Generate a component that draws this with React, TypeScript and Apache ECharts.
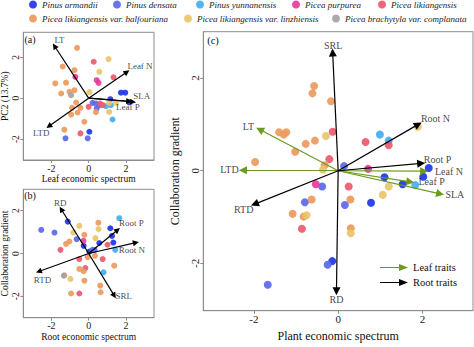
import React, { useEffect, useRef } from 'react';
import * as echarts from 'echarts';

const species = [
  'Pinus armandii',
  'Pinus densata',
  'Pinus yunnanensis',
  'Picea purpurea',
  'Picea likiangensis',
  'Picea likiangensis var. balfouriana',
  'Picea likiangensis var. linzhiensis',
  'Picea brachytyla var. complanata',
];
const speciesColors = ['#1e36e6', '#5b69e8', '#43aef0', '#ea3a9c', '#ec5a6c', '#ec9a5e', '#e9c46a', '#a3a3a3'];

// [x, y, speciesIndex]
const pointsA: number[][] = [
  [1.73, 0.27, 0], [1.96, 0.27, 0], [1.16, -0.05, 0], [2.17, -0.2, 0], [0.04, -1.64, 0],
  [0.21, -0.23, 1], [0.39, -0.26, 1], [0.43, -0.5, 1], [0.57, -0.34, 1], [-1.24, -1.96, 1], [-0.05, -1.96, 1],
  [0.93, -0.39, 2], [1.19, -0.34, 2], [1.28, -1.04, 2],
  [-0.71, 1.04, 3], [0.43, 0.88, 3], [0.53, 0.75, 3],
  [0.27, 1.78, 4], [1.33, 1.02, 4], [0.61, -0.26, 4], [0.0, -0.42, 4], [0.75, -0.34, 4], [-0.44, -1.72, 4],
  [-0.62, 2.46, 5], [-1.39, 1.55, 5], [-0.76, 1.37, 5], [-1.79, 0.72, 5], [-1.21, 0.76, 5], [-0.76, 0.39, 5],
  [-1.47, 0.23, 5], [-1.03, 0.31, 5], [-0.67, -0.21, 5], [-0.89, -0.47, 5], [-0.44, -0.47, 5], [-0.59, -0.7, 5],
  [-0.94, -0.8, 5], [0.39, -0.68, 5], [-0.23, -1.15, 5], [-1.3, -1.54, 5],
  [1.07, 1.91, 6], [0.57, 1.29, 6], [0.04, 0.3, 6], [1.1, -0.23, 6], [1.46, -0.23, 6], [1.1, -0.67, 6],
  [-0.94, 0.15, 7],
];

const pointsB: number[][] = [
  [-1.12, 1.49, 0], [1.16, 1.18, 0], [1.25, 0.82, 0], [-0.27, 0.36, 0], [0.57, 0.49, 0], [1.32, 0.51, 0], [0.04, 0.09, 0],
  [-2.54, 1.1, 1], [-1.83, 0.98, 1], [-0.64, 0.67, 1], [0.21, 0.17, 1], [0.32, 0.16, 1],
  [1.64, 1.65, 2], [1.42, 0.17, 2], [0.8, -0.88, 2],
  [-0.28, 0.59, 3],
  [-1.51, 0.17, 4], [1.01, 0.41, 4], [-0.5, -0.26, 4], [0.75, -0.26, 4], [-0.18, -0.68, 4], [-0.5, -1.87, 4],
  [0.52, 1.44, 5], [-0.23, 0.87, 5], [-1.03, 0.56, 5], [-1.21, 0.45, 5], [-0.05, -0.17, 5], [0.34, -0.11, 5],
  [-0.5, -0.72, 5], [-0.27, -0.83, 5], [1.37, -0.57, 5], [-1.3, -1.02, 5], [-0.23, -1.27, 5], [0.62, -1.5, 5],
  [0.64, -1.81, 5], [-0.94, -1.87, 5],
  [-0.5, 1.29, 6], [0.53, 1.14, 6], [-0.82, 0.98, 6], [0.36, 0.72, 6], [-0.98, -1.19, 6],
  [-1.33, -1.04, 7],
];

const pointsC: number[][] = [
  [2.15, 0.06, 0], [2.02, -0.13, 0], [1.1, -0.14, 0], [1.53, -0.29, 0], [0.78, -0.69, 0], [-0.14, -1.95, 0],
  [0.14, 0.1, 1], [-0.38, -0.34, 1], [-0.79, -0.68, 1], [0.16, -0.74, 1], [-0.25, -2.03, 1], [-1.67, -2.46, 1],
  [0.99, 0.78, 2], [1.2, 0.65, 2], [1.83, -0.31, 2],
  [0.71, 0.04, 3], [-0.53, -0.29, 3],
  [-0.13, 0.84, 4], [-0.21, 0.25, 4], [0.65, 0.62, 4], [1.2, 0.55, 4], [0.25, -0.34, 4], [-0.86, -1.25, 4],
  [-0.57, 1.83, 5], [-0.61, 1.67, 5], [-0.17, 1.5, 5], [-1.4, 0.83, 5], [-1.29, 0.78, 5], [-1.23, 0.83, 5],
  [-0.55, 0.65, 5], [-0.77, 0.58, 5], [-1.02, 0.41, 5], [-1.97, 0.19, 5], [-0.32, 0.12, 5], [-0.63, -0.62, 5],
  [0.29, -0.62, 5], [-1.08, -0.93, 5], [-0.82, -0.99, 5], [0.3, -1.24, 5],
  [-0.29, 0.75, 6], [-0.36, 0.02, 6], [1.89, 0.95, 6], [1.2, -0.34, 6], [1.06, -0.52, 6], [-0.75, -0.96, 6], [0.3, -1.35, 6],
];

// Trait loadings: [x, y, name]; label anchors: [x, y, name]
const leafTipsA: [number, number, string][] = [
  [-1.83, 2.55, 'LT'], [2.05, 1.28, 'Leaf N'], [2.38, -0.18, 'SLA'], [2.17, -0.15, 'Leaf P'], [-2.13, -1.37, 'LTD'],
];
const leafLabelsA: [number, number, string][] = [
  [-1.56, 2.83, 'LT'], [2.75, 1.58, 'Leaf N'], [2.85, 0.1, 'SLA'], [2.1, -0.42, 'Leaf P'], [-2.54, -1.69, 'LTD'],
];
const rootTipsB: [number, number, string][] = [
  [-1.47, 2.07, 'RD'], [1.55, 1.1, 'Root P'], [2.53, 0.51, 'Root N'], [-2.67, -0.84, 'RTD'], [1.37, -1.97, 'SRL'],
];
const rootLabelsB: [number, number, string][] = [
  [-1.52, 2.34, 'RD'], [2.29, 1.41, 'Root P'], [2.32, 0.17, 'Root N'], [-2.47, -1.22, 'RTD'], [1.88, -2.0, 'SRL'],
];
const leafTipsC: [number, number, string][] = [
  [-1.86, 0.89, 'LT'], [-2.26, 0.01, 'LTD'], [2.04, -0.01, 'Leaf N'], [1.71, -0.24, 'Leaf P'], [2.42, -0.5, 'SLA'],
];
const rootTipsC: [number, number, string][] = [
  [-0.13, 2.55, 'SRL'], [1.9, 1.0, 'Root N'], [1.97, 0.16, 'Root P'], [-1.98, -0.72, 'RTD'], [-0.04, -2.6, 'RD'],
];
const labelsC: [number, number, string][] = [
  [-2.13, 0.95, 'LT'], [-2.58, 0.03, 'LTD'], [2.63, -0.02, 'Leaf N'], [2.22, -0.24, 'Leaf P'], [2.77, -0.52, 'SLA'],
  [-0.12, 2.71, 'SRL'], [2.31, 1.13, 'Root N'], [2.36, 0.25, 'Root P'], [-2.24, -0.83, 'RTD'], [-0.04, -2.77, 'RD'],
];

const tickValues = [-2, 0, 2];
const FONT = 'Liberation Serif';
const GREEN = '#6b9b1f';
const AXIS_COLOR = '#8c8c8c';

const legendLayout = [
  [29, 0], [113, 0], [196, 0], [292, 0], [378, 0],
  [29, 14], [184, 14], [332, 14],
];

function makeAxis(idx: number, min: number, max: number, name: string, nameGap: number, labelSize: number, nameSize: number, labelMargin: number, rotate: number) {
  return {
    type: 'value',
    gridIndex: idx,
    min,
    max,
    name,
    nameLocation: 'middle',
    nameGap,
    nameTextStyle: { fontFamily: FONT, fontSize: nameSize, color: '#111' },
    axisLine: { show: true, onZero: false, lineStyle: { color: AXIS_COLOR, width: 1 } },
    axisTick: { show: true, length: 3, customValues: tickValues, lineStyle: { color: AXIS_COLOR } },
    axisLabel: { customValues: tickValues, rotate, fontFamily: FONT, fontSize: labelSize, color: '#222', margin: labelMargin },
    splitLine: { show: false },
  };
}

function arrowSeries(name: string, idx: number, tips: [number, number, string][], color: string, size: number) {
  return {
    type: 'lines',
    name,
    coordinateSystem: 'cartesian2d',
    xAxisIndex: idx,
    yAxisIndex: idx,
    symbol: ['none', 'triangle'],
    symbolSize: size,
    silent: true,
    z: 5,
    lineStyle: { color, width: 1.2, opacity: 1 },
    itemStyle: { color },
    data: tips.map((t) => ({ coords: [[0, 0], [t[0], t[1]]] })),
  };
}

function labelSeries(idx: number, labels: [number, number, string][], size: number) {
  return {
    type: 'scatter',
    name: 'labels-' + idx,
    xAxisIndex: idx,
    yAxisIndex: idx,
    symbolSize: 0,
    silent: true,
    z: 6,
    data: labels,
    label: {
      show: true,
      position: 'inside',
      formatter: (p: any) => p.data[2],
      fontFamily: FONT,
      fontSize: size,
      color: '#111',
    },
  };
}

export default function App() {
  const ref = useRef<HTMLDivElement>(null);
  useEffect(() => {
    if (!ref.current) return;
    const chart = echarts.init(ref.current, undefined, { renderer: 'svg' });
    const panels = [pointsA, pointsB, pointsC];
    const scatterSeries: any[] = [];
    panels.forEach((pts, p) => {
      species.forEach((sp, s) => {
        const d = pts.filter((q) => q[2] === s).map((q) => [q[0], q[1]]);
        if (!d.length) return;
        scatterSeries.push({
          type: 'scatter',
          name: sp,
          xAxisIndex: p,
          yAxisIndex: p,
          symbolSize: p === 2 ? 8 : 6,
          itemStyle: { color: speciesColors[s], opacity: 0.92 },
          z: 2,
          data: d,
        });
      });
    });

    const arrowIcon = 'path://M0,3.5L19,3.5L19,0.6L28,4L19,7.4L19,4.5L0,4.5Z';

    const option: any = {
      animation: false,
      backgroundColor: '#ffffff',
      textStyle: { fontFamily: FONT },
      grid: [
        { left: 23.3, top: 32.3, width: 130.7, height: 127.7, show: true, borderColor: AXIS_COLOR, borderWidth: 1, backgroundColor: 'transparent', containLabel: false, outerBoundsMode: 'none' },
        { left: 23.3, top: 189.3, width: 130.7, height: 128.4, show: true, borderColor: AXIS_COLOR, borderWidth: 1, backgroundColor: 'transparent', containLabel: false, outerBoundsMode: 'none' },
        { left: 203.3, top: 31.7, width: 269.7, height: 279, show: true, borderColor: AXIS_COLOR, borderWidth: 1, backgroundColor: 'transparent', containLabel: false, outerBoundsMode: 'none' },
      ],
      xAxis: [
        makeAxis(0, -3.5, 3.5, 'Leaf economic spectrum', 14, 10, 9.5, 3, 0),
        makeAxis(1, -3.5, 3.5, 'Root economic spectrum', 14, 10, 9.5, 3, 0),
        makeAxis(2, -3.2, 3.2, 'Plant economic spectrum', 14, 11, 12, 3, 0),
      ],
      yAxis: [
        makeAxis(0, -3.02, 3.22, 'PC2 (13.7%)', 6, 9.5, 9.5, 2, 90),
        makeAxis(1, -3, 3, 'Collaboration gradient', 6, 9.5, 9.5, 2, 90),
        makeAxis(2, -3.02, 3, 'Collaboration gradient', 19, 11, 12, 3, 90),
      ],
      legend: [
        ...species.map((sp, i) => ({
          data: [sp],
          left: legendLayout[i][0],
          top: legendLayout[i][1],
          padding: 0,
          icon: 'circle',
          itemWidth: 8,
          itemHeight: 8,
          selectedMode: false,
          textStyle: { fontFamily: FONT, fontStyle: 'italic', fontSize: 9, color: '#222' },
        })),
        {
          data: [
            { name: 'Leaf traits', icon: arrowIcon, itemStyle: { color: GREEN, borderWidth: 0 } },
            { name: 'Root traits', icon: arrowIcon, itemStyle: { color: '#000', borderWidth: 0 } },
          ],
          orient: 'vertical',
          left: 380,
          top: 262,
          padding: 0,
          itemWidth: 28,
          itemHeight: 8,
          itemGap: 4,
          selectedMode: false,
          itemStyle: { borderWidth: 0 },
          lineStyle: { width: 0 },
          textStyle: { fontFamily: FONT, fontSize: 10.5, color: '#111' },
        },
      ],
      graphic: [
        { type: 'text', x: 30, y: 39, style: { text: '(a)', fontFamily: FONT, fontSize: 10, fill: '#111', textAlign: 'center', textVerticalAlign: 'middle' } },
        { type: 'text', x: 30, y: 195, style: { text: '(b)', fontFamily: FONT, fontSize: 10, fill: '#111', textAlign: 'center', textVerticalAlign: 'middle' } },
        { type: 'text', x: 213, y: 40, style: { text: '(c)', fontFamily: FONT, fontSize: 10.5, fill: '#111', textAlign: 'center', textVerticalAlign: 'middle' } },
      ],
      series: [
        ...scatterSeries,
        arrowSeries('Leaf vectors a', 0, leafTipsA, '#000', 6),
        arrowSeries('Root vectors b', 1, rootTipsB, '#000', 6),
        arrowSeries('Leaf traits', 2, leafTipsC, GREEN, 8),
        arrowSeries('Root traits', 2, rootTipsC, '#000', 8),
        labelSeries(0, leafLabelsA, 9),
        labelSeries(1, rootLabelsB, 9),
        labelSeries(2, labelsC, 10),
      ],
    };
    chart.setOption(option);
    return () => chart.dispose();
  }, []);
  return (
    <div
      ref={ref}
      style={{ position: 'fixed', left: 0, top: 0, width: 474, height: 347, background: '#fff' }}
    />
  );
}
